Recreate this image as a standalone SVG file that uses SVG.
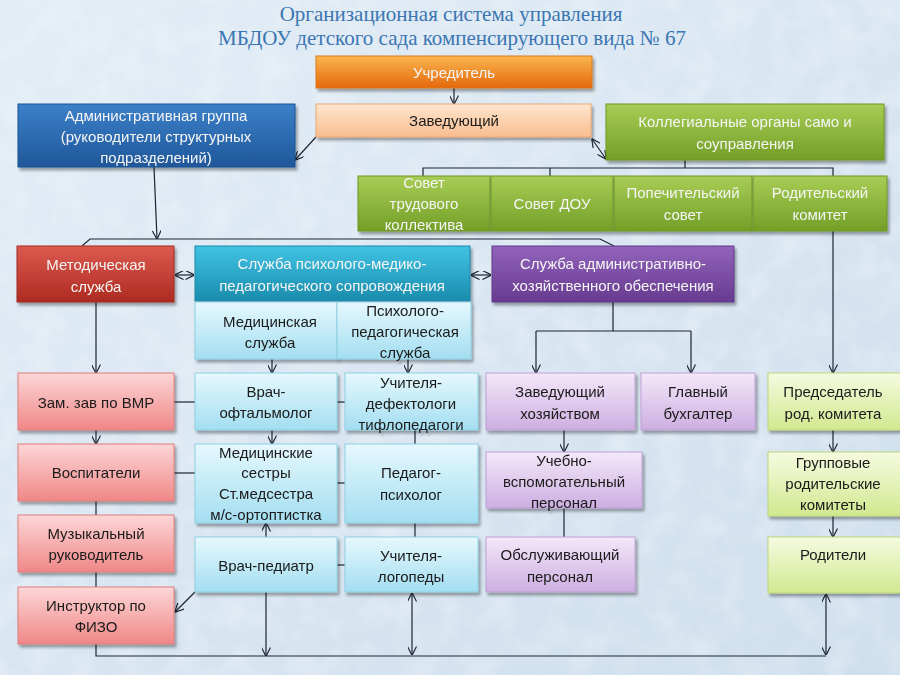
<svg xmlns="http://www.w3.org/2000/svg" width="900" height="675" viewBox="0 0 900 675">
<defs>
<linearGradient id="bg" x1="0" y1="0" x2="1" y2="1"><stop offset="0" stop-color="#e3edf6"/><stop offset="1" stop-color="#cfdfed"/></linearGradient>
<filter id="tex" x="0" y="0" width="100%" height="100%"><feTurbulence type="fractalNoise" baseFrequency="0.035" numOctaves="3" seed="4"/><feColorMatrix type="matrix" values="0 0 0 0 1  0 0 0 0 1  0 0 0 0 1  0 0 0 0.9 -0.35"/></filter>
<filter id="sh" x="-10%" y="-10%" width="125%" height="135%"><feGaussianBlur in="SourceAlpha" stdDeviation="1.5"/><feOffset dx="1.5" dy="2.5"/><feComponentTransfer><feFuncA type="linear" slope="0.35"/></feComponentTransfer><feMerge><feMergeNode/><feMergeNode in="SourceGraphic"/></feMerge></filter>
<linearGradient id="gOr" x1="0" y1="0" x2="0" y2="1"><stop offset="0" stop-color="#f9b650"/><stop offset="1" stop-color="#e5680c"/></linearGradient>
<linearGradient id="gPe" x1="0" y1="0" x2="0" y2="1"><stop offset="0" stop-color="#fee6cf"/><stop offset="1" stop-color="#f9bd8f"/></linearGradient>
<linearGradient id="gBl" x1="0" y1="0" x2="0" y2="1"><stop offset="0" stop-color="#3b80c9"/><stop offset="1" stop-color="#20579a"/></linearGradient>
<linearGradient id="gGr" x1="0" y1="0" x2="0" y2="1"><stop offset="0" stop-color="#a8cd55"/><stop offset="1" stop-color="#739f27"/></linearGradient>
<linearGradient id="gRd" x1="0" y1="0" x2="0" y2="1"><stop offset="0" stop-color="#dc5a4f"/><stop offset="1" stop-color="#ad2a20"/></linearGradient>
<linearGradient id="gTl" x1="0" y1="0" x2="0" y2="1"><stop offset="0" stop-color="#41c3e3"/><stop offset="1" stop-color="#1a8cad"/></linearGradient>
<linearGradient id="gPu" x1="0" y1="0" x2="0" y2="1"><stop offset="0" stop-color="#9263bb"/><stop offset="1" stop-color="#673b90"/></linearGradient>
<linearGradient id="gCy" x1="0" y1="0" x2="0" y2="1"><stop offset="0" stop-color="#e6f8fd"/><stop offset="1" stop-color="#a3def1"/></linearGradient>
<linearGradient id="gPk" x1="0" y1="0" x2="0" y2="1"><stop offset="0" stop-color="#fdd6d6"/><stop offset="1" stop-color="#f08787"/></linearGradient>
<linearGradient id="gLp" x1="0" y1="0" x2="0" y2="1"><stop offset="0" stop-color="#f3e8f9"/><stop offset="1" stop-color="#cdaee1"/></linearGradient>
<linearGradient id="gLg" x1="0" y1="0" x2="0" y2="1"><stop offset="0" stop-color="#f5fbe0"/><stop offset="1" stop-color="#d2e890"/></linearGradient>
<marker id="ah" viewBox="0 0 10 10" refX="9.5" refY="5" markerWidth="9" markerHeight="9" markerUnits="userSpaceOnUse" orient="auto-start-reverse"><path d="M0,0 L10,5 L0,10" fill="none" stroke="#1e2433" stroke-width="1.3"/></marker>
</defs>
<style>
.t{font-family:"Liberation Sans","DejaVu Sans",sans-serif;font-size:15px;text-anchor:middle;dominant-baseline:central}
.w{fill:#f5f5f5}
.d{fill:#1a1a1a}
.ttl{font-family:"Liberation Serif","DejaVu Serif",serif;font-size:21px;fill:#3b76b2;text-anchor:middle}
.b{filter:url(#sh)}
.c line,.c polyline,.c path{fill:none;stroke:#1e2433;stroke-width:1.2}
.a{marker-end:url(#ah)}
.aa{marker-start:url(#ah);marker-end:url(#ah)}
</style>
<rect width="900" height="675" fill="url(#bg)"/>
<rect width="900" height="675" filter="url(#tex)" opacity="0.6"/>
<text class="ttl" x="451" y="21">Организационная система управления</text>
<text class="ttl" x="452" y="45">МБДОУ детского сада компенсирующего вида № 67</text>

<g class="c" id="connectors">
<line class="a" x1="454" y1="88" x2="454" y2="104"/>
<line class="a" x1="316" y1="137" x2="295" y2="160"/>
<line class="aa" x1="592" y1="139" x2="606" y2="159"/>
<line x1="685" y1="160" x2="685" y2="168"/>
<polyline points="423,176 423,168 833,168 833,176"/>
<line x1="550" y1="168" x2="550" y2="176"/>
<line class="a" x1="833" y1="231" x2="833" y2="373"/>
<line class="a" x1="154" y1="167" x2="157" y2="239"/>
<polyline points="82,246 90,239 600,239 614,246"/>
<line class="aa" x1="175" y1="275" x2="194" y2="275"/>
<line class="aa" x1="471" y1="275" x2="491" y2="275"/>
<line class="a" x1="96" y1="302" x2="96" y2="373"/>
<line class="a" x1="96" y1="430" x2="96" y2="444"/>
<line x1="96" y1="501" x2="96" y2="515"/>
<line x1="96" y1="572" x2="96" y2="587"/>
<line class="a" x1="272" y1="359" x2="272" y2="373"/>
<line class="a" x1="408" y1="359" x2="408" y2="373"/>
<line class="a" x1="272" y1="430" x2="272" y2="444"/>
<line class="a" x1="266" y1="537" x2="266" y2="523"/>
<line x1="415" y1="430" x2="415" y2="444"/>
<line x1="415" y1="523" x2="415" y2="537"/>
<line x1="174" y1="402" x2="195" y2="402"/>
<line x1="174" y1="473" x2="195" y2="473"/>
<line x1="337" y1="402" x2="345" y2="402"/>
<line x1="337" y1="483" x2="345" y2="483"/>
<line x1="337" y1="565" x2="345" y2="565"/>
<line class="a" x1="195" y1="592" x2="175" y2="612"/>
<polyline points="96,644 96,656 826,656"/>
<line class="a" x1="266" y1="592" x2="266" y2="656"/>
<line class="aa" x1="412" y1="593" x2="412" y2="655"/>
<line class="aa" x1="826" y1="594" x2="826" y2="655"/>
<line x1="613" y1="302" x2="613" y2="331"/>
<line x1="536" y1="331" x2="691" y2="331"/>
<line class="a" x1="536" y1="331" x2="536" y2="373"/>
<line class="a" x1="691" y1="331" x2="691" y2="373"/>
<line class="a" x1="564" y1="430" x2="564" y2="452"/>
<line x1="564" y1="508" x2="564" y2="537"/>
<line class="a" x1="833" y1="430" x2="833" y2="452"/>
<line class="a" x1="833" y1="516" x2="833" y2="537"/>
</g>

<g id="n-uchreditel" class="b"><rect x="316" y="56" width="276" height="32" fill="url(#gOr)" stroke="#de7a1c"/><text class="t w" x="454" y="72">Учредитель</text></g>
<g id="n-zaveduyushchiy" class="b"><rect x="316" y="104" width="275" height="33" fill="url(#gPe)" stroke="#eda773"/><text class="t d" x="454" y="120">Заведующий</text></g>
<g id="n-adm" class="b"><rect x="18" y="104" width="277" height="63" fill="url(#gBl)" stroke="#1d5391"/><text class="t w"><tspan x="156" y="115">Административная группа</tspan><tspan x="156" y="136">(руководители структурных</tspan><tspan x="156" y="157">подразделений)</tspan></text></g>
<g id="n-kolleg" class="b"><rect x="606" y="104" width="278" height="56" fill="url(#gGr)" stroke="#6d9625"/><text class="t w"><tspan x="745" y="121">Коллегиальные органы само и</tspan><tspan x="745" y="143">соуправления</tspan></text></g>
<g id="n-sovet-trud" class="b"><rect x="358" y="176" width="132" height="55" fill="url(#gGr)" stroke="#6d9625"/><text class="t w"><tspan x="424" y="182">Совет</tspan><tspan x="424" y="203">трудового</tspan><tspan x="424" y="224">коллектива</tspan></text></g>
<g id="n-sovet-dou" class="b"><rect x="491" y="176" width="122" height="55" fill="url(#gGr)" stroke="#6d9625"/><text class="t w" x="552" y="203">Совет ДОУ</text></g>
<g id="n-popech" class="b"><rect x="614" y="176" width="138" height="55" fill="url(#gGr)" stroke="#6d9625"/><text class="t w"><tspan x="683" y="192">Попечительский</tspan><tspan x="683" y="214">совет</tspan></text></g>
<g id="n-rodkom" class="b"><rect x="753" y="176" width="134" height="55" fill="url(#gGr)" stroke="#6d9625"/><text class="t w"><tspan x="820" y="192">Родительский</tspan><tspan x="820" y="214">комитет</tspan></text></g>

<g id="n-metod" class="b"><rect x="17" y="246" width="157" height="56" fill="url(#gRd)" stroke="#a22a20"/><text class="t w"><tspan x="96" y="264">Методическая</tspan><tspan x="96" y="286">служба</tspan></text></g>
<g id="n-ppms" class="b"><rect x="195" y="246" width="275" height="55" fill="url(#gTl)" stroke="#1b87a8"/><text class="t w"><tspan x="332" y="263">Служба психолого-медико-</tspan><tspan x="332" y="285">педагогического сопровождения</tspan></text></g>
<g id="n-aho" class="b"><rect x="492" y="246" width="242" height="56" fill="url(#gPu)" stroke="#60388a"/><text class="t w"><tspan x="613" y="263">Служба административно-</tspan><tspan x="613" y="285">хозяйственного обеспечения</tspan></text></g>

<g id="n-med" class="b"><rect x="195" y="302" width="142" height="57" fill="url(#gCy)" stroke="#8fcfe2"/><text class="t d"><tspan x="270" y="321">Медицинская</tspan><tspan x="270" y="342">служба</tspan></text></g>
<g id="n-psped" class="b"><rect x="337" y="302" width="134" height="57" fill="url(#gCy)" stroke="#8fcfe2"/><text class="t d"><tspan x="405" y="310">Психолого-</tspan><tspan x="405" y="331">педагогическая</tspan><tspan x="405" y="352">служба</tspan></text></g>
<g id="n-oftalm" class="b"><rect x="195" y="373" width="142" height="57" fill="url(#gCy)" stroke="#8fcfe2"/><text class="t d"><tspan x="266" y="391">Врач-</tspan><tspan x="266" y="412">офтальмолог</tspan></text></g>
<g id="n-defekt" class="b"><rect x="345" y="373" width="133" height="57" fill="url(#gCy)" stroke="#8fcfe2"/><text class="t d"><tspan x="411" y="382">Учителя-</tspan><tspan x="411" y="403">дефектологи</tspan><tspan x="411" y="424">тифлопедагоги</tspan></text></g>
<g id="n-medsestry" class="b"><rect x="195" y="444" width="142" height="79" fill="url(#gCy)" stroke="#8fcfe2"/><text class="t d"><tspan x="266" y="452">Медицинские</tspan><tspan x="266" y="472">сестры</tspan><tspan x="266" y="493">Ст.медсестра</tspan><tspan x="266" y="514">м/с-ортоптистка</tspan></text></g>
<g id="n-pedpsih" class="b"><rect x="345" y="444" width="133" height="79" fill="url(#gCy)" stroke="#8fcfe2"/><text class="t d"><tspan x="411" y="472">Педагог-</tspan><tspan x="411" y="494">психолог</tspan></text></g>
<g id="n-pediatr" class="b"><rect x="195" y="537" width="142" height="55" fill="url(#gCy)" stroke="#8fcfe2"/><text class="t d" x="266" y="565">Врач-педиатр</text></g>
<g id="n-logoped" class="b"><rect x="345" y="537" width="133" height="55" fill="url(#gCy)" stroke="#8fcfe2"/><text class="t d"><tspan x="411" y="555">Учителя-</tspan><tspan x="411" y="576">логопеды</tspan></text></g>

<g id="n-zamvmr" class="b"><rect x="18" y="373" width="156" height="57" fill="url(#gPk)" stroke="#e07c7c"/><text class="t d" x="96" y="402">Зам. зав по ВМР</text></g>
<g id="n-vospit" class="b"><rect x="18" y="444" width="156" height="57" fill="url(#gPk)" stroke="#e07c7c"/><text class="t d" x="96" y="472">Воспитатели</text></g>
<g id="n-muz" class="b"><rect x="18" y="515" width="156" height="57" fill="url(#gPk)" stroke="#e07c7c"/><text class="t d"><tspan x="96" y="533">Музыкальный</tspan><tspan x="96" y="554">руководитель</tspan></text></g>
<g id="n-fizo" class="b"><rect x="18" y="587" width="156" height="57" fill="url(#gPk)" stroke="#e07c7c"/><text class="t d"><tspan x="96" y="605">Инструктор по</tspan><tspan x="96" y="626">ФИЗО</tspan></text></g>

<g id="n-zavhoz" class="b"><rect x="486" y="373" width="149" height="57" fill="url(#gLp)" stroke="#bf9fd6"/><text class="t d"><tspan x="560" y="391">Заведующий</tspan><tspan x="560" y="413">хозяйством</tspan></text></g>
<g id="n-buh" class="b"><rect x="641" y="373" width="114" height="57" fill="url(#gLp)" stroke="#bf9fd6"/><text class="t d"><tspan x="698" y="391">Главный</tspan><tspan x="698" y="413">бухгалтер</tspan></text></g>
<g id="n-uchvsp" class="b"><rect x="486" y="452" width="156" height="56" fill="url(#gLp)" stroke="#bf9fd6"/><text class="t d"><tspan x="564" y="460">Учебно-</tspan><tspan x="564" y="481">вспомогательный</tspan><tspan x="564" y="502">персонал</tspan></text></g>
<g id="n-obsl" class="b"><rect x="486" y="537" width="149" height="55" fill="url(#gLp)" stroke="#bf9fd6"/><text class="t d"><tspan x="560" y="554">Обслуживающий</tspan><tspan x="560" y="576">персонал</tspan></text></g>

<g id="n-predsed" class="b"><rect x="768" y="373" width="136" height="57" fill="url(#gLg)" stroke="#bcd77a"/><text class="t d"><tspan x="833" y="391">Председатель</tspan><tspan x="833" y="413">род. комитета</tspan></text></g>
<g id="n-grupp" class="b"><rect x="768" y="452" width="136" height="64" fill="url(#gLg)" stroke="#bcd77a"/><text class="t d"><tspan x="833" y="462">Групповые</tspan><tspan x="833" y="483">родительские</tspan><tspan x="833" y="504">комитеты</tspan></text></g>
<g id="n-roditeli" class="b"><rect x="768" y="537" width="136" height="56" fill="url(#gLg)" stroke="#bcd77a"/><text class="t d" x="833" y="554">Родители</text></g>
</svg>
